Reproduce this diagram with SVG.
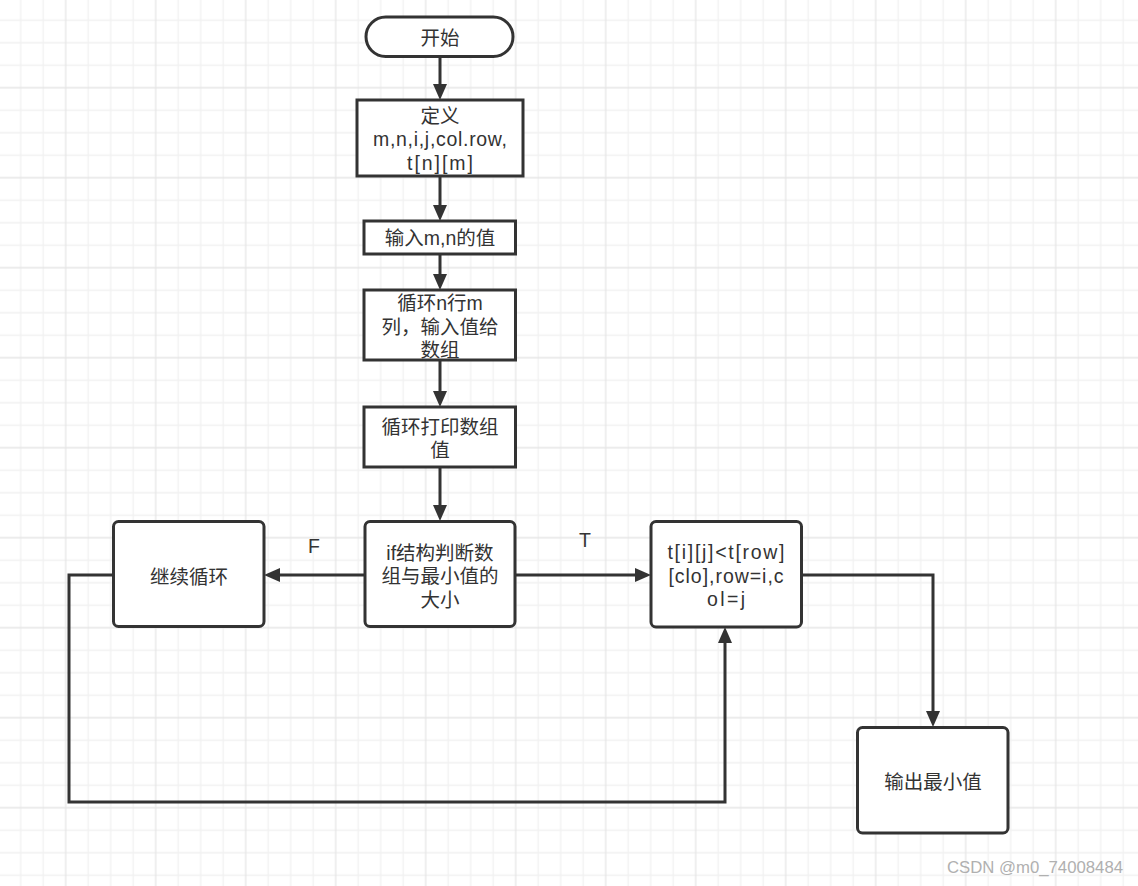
<svg xmlns="http://www.w3.org/2000/svg" width="1138" height="886" viewBox="0 0 1138 886">
<defs>
<pattern id="grid" patternUnits="userSpaceOnUse" x="-25.3" y="-3.3" width="90" height="90">
<path d="M23.5,0V90M46,0V90M68.5,0V90M0,23.5H90M0,46H90M0,68.5H90" stroke="#f1f1f1" stroke-width="1.3" fill="none"/>
<path d="M1,0V90M0,1H90" stroke="#e6e6e6" stroke-width="1.3" fill="none"/>
</pattern>
<marker id="arr" markerUnits="userSpaceOnUse" markerWidth="16" markerHeight="14" refX="6" refY="7" orient="auto">
<path d="M0,0 L16,7 L0,14 z" fill="#333"/>
</marker>
<style>
.box{fill:#fff;stroke:#333;stroke-width:3}
.t{font-family:"Liberation Sans","Noto Sans CJK SC",sans-serif;font-size:19.5px;fill:#333;text-anchor:middle}
.c{fill:none;stroke:#333;stroke-width:3}
</style>
</defs>
<rect width="1138" height="886" fill="#fff"/>
<rect width="1138" height="886" fill="url(#grid)"/>

<g id="connectors">
<path class="c" d="M440,57.5V90" marker-end="url(#arr)"/>
<path class="c" d="M440,176V211" marker-end="url(#arr)"/>
<path class="c" d="M440,254V280" marker-end="url(#arr)"/>
<path class="c" d="M440,360V397" marker-end="url(#arr)"/>
<path class="c" d="M440,467V511" marker-end="url(#arr)"/>
<path class="c" d="M365,575H274" marker-end="url(#arr)"/>
<path class="c" d="M515,575H641" marker-end="url(#arr)"/>
<path class="c" d="M802,575H933V717" marker-end="url(#arr)"/>
<path class="c" d="M113,575H69V802H725V637" marker-end="url(#arr)"/>
<text class="t" x="314" y="553">F</text>
<text class="t" x="585" y="547">T</text>
</g>

<g id="start">
<rect class="box" x="366" y="17" width="147" height="39.5" rx="19.75"/>
<text class="t" x="440" y="45">开始</text>
</g>
<g id="define">
<rect class="box" x="357" y="100" width="166" height="76"/>
<text class="t" x="440" y="122.5">定义</text>
<text class="t" x="440" y="146" textLength="134">m,n,i,j,col.row,</text>
<text class="t" x="440" y="169.5" textLength="66">t[n][m]</text>
</g>
<g id="input">
<rect class="box" x="364" y="221" width="151.5" height="33"/>
<text class="t" x="440" y="245">输入m,n的值</text>
</g>
<g id="loopInput">
<rect class="box" x="364" y="290" width="151.5" height="70"/>
<text class="t" x="440" y="310">循环n行m</text>
<text class="t" x="440" y="333.5">列，输入值给</text>
<text class="t" x="440" y="357">数组</text>
</g>
<g id="loopPrint">
<rect class="box" x="364" y="407" width="151.5" height="60"/>
<text class="t" x="440" y="433.5">循环打印数组</text>
<text class="t" x="440" y="457">值</text>
</g>
<g id="ifNode">
<rect class="box" x="365" y="521.5" width="150" height="105" rx="5"/>
<text class="t" x="440" y="559.5">if结构判断数</text>
<text class="t" x="440" y="583">组与最小值的</text>
<text class="t" x="440" y="606.5">大小</text>
</g>
<g id="continueLoop">
<rect class="box" x="113.5" y="521.5" width="150.5" height="105" rx="5"/>
<text class="t" x="189" y="583.5">继续循环</text>
</g>
<g id="compare">
<rect class="box" x="651" y="521.5" width="150.5" height="105.5" rx="5"/>
<text class="t" x="726" y="558.5" textLength="117">t[i][j]&lt;t[row]</text>
<text class="t" x="726" y="582.5" textLength="115">[clo],row=i,c</text>
<text class="t" x="726" y="606" textLength="38">ol=j</text>
</g>
<g id="outputMin">
<rect class="box" x="857.5" y="727.5" width="150.5" height="105.5" rx="5"/>
<text class="t" x="933" y="788.5">输出最小值</text>
</g>
<text x="947" y="873" font-family="Liberation Sans, Arial, sans-serif" font-size="16" fill="#b0b0b0" textLength="176" lengthAdjust="spacingAndGlyphs">CSDN @m0_74008484</text>
</svg>
